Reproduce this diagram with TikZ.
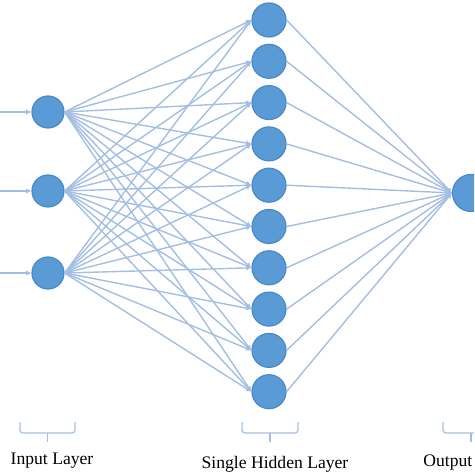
\documentclass[tikz,border=0pt]{standalone}
\usepackage{fontspec}
\setmainfont{Liberation Serif}
\usetikzlibrary{arrows.meta}
\definecolor{nodeblue}{HTML}{5B9BD5}
\definecolor{rimblue}{HTML}{4A89C8}
\definecolor{wireblue}{HTML}{A4BEE2}

\begin{document}
\begin{tikzpicture}[x=0.5pt,y=-0.5pt,
  neuron/.style={circle,draw=rimblue,fill=nodeblue,line width=0.6pt,
    minimum size=17pt,inner sep=0pt},
  wire/.style={-{Latex[length=2.6pt,width=2.6pt]},draw=wireblue,line width=0.7pt},
  brace/.style={draw=wireblue,line width=0.6pt,rounded corners=1.5pt},
  lbl/.style={font=\fontsize{8.8}{10}\selectfont}
]
  \useasboundingbox (0,0) rectangle (474,474);
  \clip (0,0) rectangle (474,474);
  % neurons
  \foreach \i/\y in {1/112,2/191,3/273}{
    \node[neuron,minimum size=16pt] (in\i) at (48,\y) {};
    \coordinate (src\i) at (0,\y);
  }
  \foreach \j in {1,...,10}
    \node[neuron] (hid\j) at (269,{20+41.3*(\j-1)}) {};
  \node[neuron,minimum size=18.5pt] (out) at (471,193) {};
  % connections
  \foreach \i in {1,2,3}{
    \draw[wire] (src\i) -- (in\i.west);
    \foreach \j in {1,...,10}
      \draw[wire] (in\i.east) -- (hid\j.west);
  }
  \foreach \j in {1,...,10}
    \draw[wire] (hid\j.east) -- (out.west);
  % braces
  \draw[brace] (20,422) -- (20,433) -- (75,433) -- (75,422);
  \draw[brace] (47.5,433) -- (47.5,442);
  \draw[brace] (242,422) -- (242,433) -- (298,433) -- (298,422);
  \draw[brace] (270,433) -- (270,442);
  \draw[brace] (443,422) -- (443,433) -- (499,433) -- (499,422);
  \draw[brace] (471,433) -- (471,442);
  % labels
  \node[lbl] (inlbl) at (52,461) {Input Layer};
  \node[lbl] (hidlbl) at (275,464) {Single Hidden Layer};
  \node[lbl,anchor=west,inner sep=0pt] (outlbl) at (423,463) {Output};
\end{tikzpicture}
\end{document}
